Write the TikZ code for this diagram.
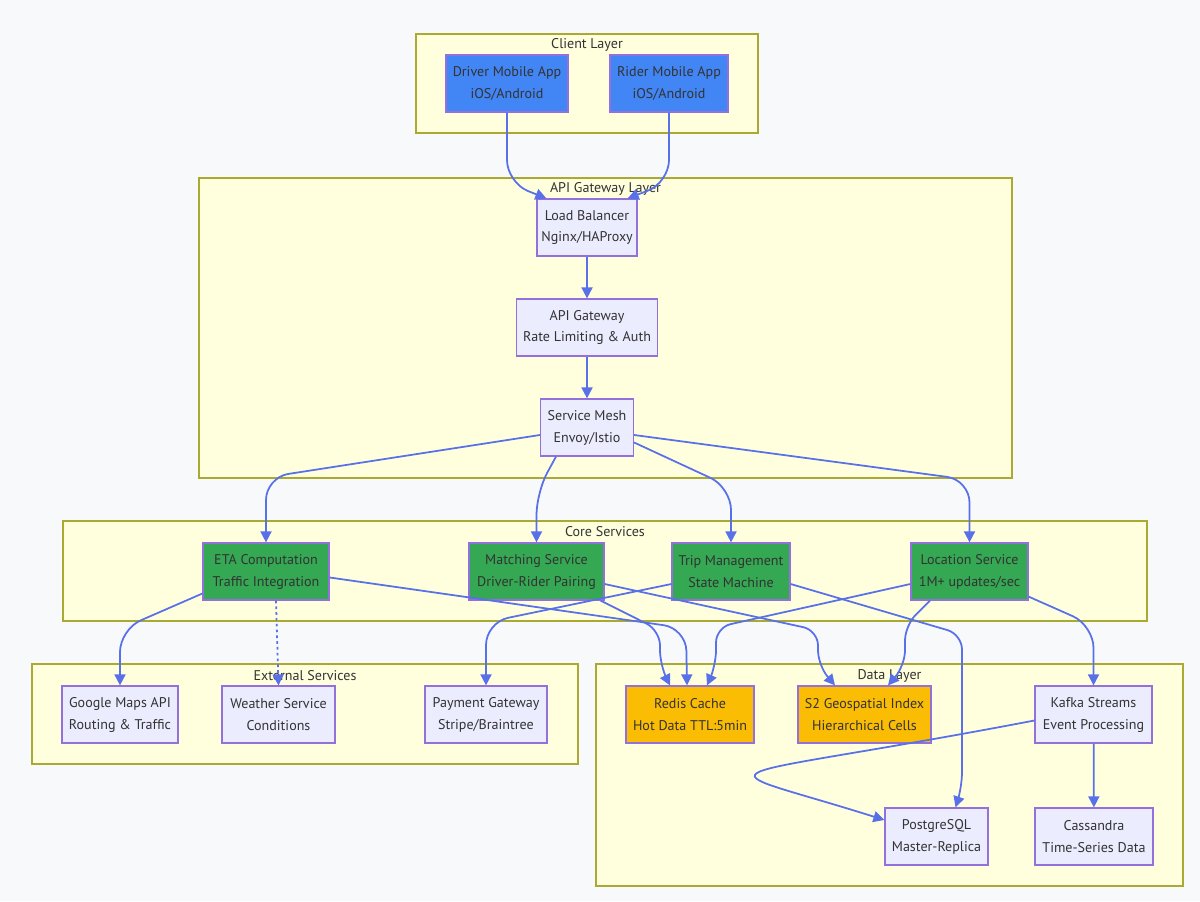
\documentclass[tikz,border=0pt]{standalone}
\usepackage{fontspec}
\setmainfont{PT Sans}
\usepackage{xcolor}
\usetikzlibrary{arrows.meta}
\usetikzlibrary{positioning,calc}
\definecolor{bgcol}{RGB}{248,249,251}
\definecolor{layerfill}{HTML}{FFFFDE}
\definecolor{layerline}{HTML}{AAAA33}
\definecolor{boxfill}{HTML}{ECECFF}
\definecolor{boxline}{HTML}{9370DB}
\definecolor{appblue}{HTML}{4285F4}
\definecolor{svcgreen}{HTML}{34A853}
\definecolor{dataorange}{HTML}{FBBC04}
\definecolor{linkblue}{RGB}{88,112,232}
\definecolor{txt}{HTML}{333333}
\tikzset{
    layer/.style={
        draw=layerline,
        fill=layerfill,
        line width=0.7pt
    },
    layertitle/.style={
        text=txt,
        inner sep=0pt,
        font=\fontsize{8}{10}\selectfont
    },
    box/.style={
        draw=boxline,
        fill=boxfill,
        line width=0.7pt,
        minimum height=1.14cm,
        inner sep=0pt,
        align=center,
        text=txt,
        font=\fontsize{8}{12.5}\selectfont
    },
    appbox/.style={box, fill=appblue},
    svcbox/.style={box, fill=svcgreen},
    databox/.style={box, fill=dataorange},
    flow/.style={
        draw=linkblue,
        line width=1pt,
        -{Triangle[length=2.2mm, width=2.2mm]},
        rounded corners=0.45cm
    },
    bentflow/.style={flow, rounded corners=0.3cm},
    weakflow/.style={flow, dash pattern=on 1.5pt off 1.8pt}
}

\begin{document}
\begin{tikzpicture}
    \fill[bgcol] (0,0) rectangle (24,-18.02);
    \useasboundingbox (0,0) rectangle (24,-18.02);

    \draw[layer] (8.32,-0.68) rectangle (15.16,-2.66);
    \node[layertitle] (clientT) at (11.74,-0.9) {Client Layer};
    \draw[layer] (3.98,-3.56) rectangle (20.24,-9.56);
    \node[layertitle] (gatewayT) at (12.11,-3.78) {API Gateway Layer};
    \draw[layer] (1.26,-10.42) rectangle (22.94,-12.42);
    \node[layertitle] (coreT) at (12.1,-10.64) {Core Services};
    \draw[layer] (0.64,-13.28) rectangle (11.56,-15.28);
    \node[layertitle] (extT) at (6.1,-13.52) {External Services};
    \draw[layer] (11.92,-13.28) rectangle (23.66,-17.72);
    \node[layertitle] (dataT) at (17.79,-13.52) {Data Layer};

    \node[appbox, minimum width=2.44cm] (driver) at (10.14,-1.67) {Driver Mobile App\\iOS/Android};
    \node[appbox, minimum width=2.36cm] (rider) at (13.38,-1.67) {Rider Mobile App\\iOS/Android};

    \node[box, minimum width=2.0cm] (lb) at (11.74,-4.55) {Load Balancer\\Nginx/HAProxy};
    \node[box, minimum width=2.82cm] (apigw) at (11.74,-6.55) {API Gateway\\Rate Limiting \& Auth};
    \node[box, minimum width=1.86cm] (mesh) at (11.74,-8.55) {Service Mesh\\Envoy/Istio};

    \node[svcbox, minimum width=2.52cm] (eta) at (5.32,-11.43) {ETA Computation\\Traffic Integration};
    \node[svcbox, minimum width=2.7cm] (match) at (10.73,-11.43) {Matching Service\\Driver-Rider Pairing};
    \node[svcbox, minimum width=2.36cm] (trip) at (14.62,-11.43) {Trip Management\\State Machine};
    \node[svcbox, minimum width=2.34cm] (loc) at (19.39,-11.43) {Location Service\\1M+ updates/sec};

    \node[box, minimum width=2.32cm] (gmaps) at (2.4,-14.29) {Google Maps API\\Routing \& Traffic};
    \node[box, minimum width=2.26cm] (weather) at (5.57,-14.29) {Weather Service\\Conditions};
    \node[box, minimum width=2.44cm] (pay) at (9.72,-14.29) {Payment Gateway\\Stripe/Braintree};

    \node[databox, minimum width=2.56cm] (redis) at (13.8,-14.29) {Redis Cache\\Hot Data TTL:5min};
    \node[databox, minimum width=2.66cm] (geo) at (17.29,-14.29) {S2 Geospatial Index\\Hierarchical Cells};
    \node[box, minimum width=2.34cm] (kafka) at (21.87,-14.29) {Kafka Streams\\Event Processing};
    \node[box, minimum width=2.06cm] (pg) at (18.73,-16.73) {PostgreSQL\\Master-Replica};
    \node[box, minimum width=2.36cm] (cass) at (21.88,-16.73) {Cassandra\\Time-Series Data};

    \draw[flow] (driver.south) -- ($(driver.south)+(0,-1.4)$) -- ([xshift=0.2cm]lb.north west);
    \draw[flow] (rider.south) -- ($(rider.south)+(0,-1.4)$) -- ([xshift=-0.2cm]lb.north east);
    \draw[flow] (lb) -- (apigw);
    \draw[flow] (apigw) -- (mesh);

    \draw[flow] ([yshift=-0.15cm]mesh.west) -- ($(eta.north)+(0,1.3)$) -- (eta.north);
    \draw[flow] ([xshift=-0.62cm]mesh.south) -- ($(match.north)+(0,1.0)$) -- (match.north);
    \draw[flow] ([yshift=-0.3cm]mesh.east) -- ($(trip.north)+(0,1.1)$) -- (trip.north);
    \draw[flow] ([yshift=-0.15cm]mesh.east) -- ($(loc.north)+(0,1.25)$) -- (loc.north);

    \draw[flow] ([yshift=-0.44cm]eta.west) -- ($(gmaps.north)+(0,1.12)$) -- (gmaps.north);
    \draw[weakflow] ([xshift=0.2cm]eta.south) -- (weather.north);
    \draw[flow] ([yshift=-0.12cm]eta.east) -- ($(redis.north)+(-0.08,1.14)$) -- ([xshift=-0.06cm]redis.north);

    \draw[bentflow] ([xshift=-0.08cm]match.south east) -- ($(redis.north)+(-0.6,1.1)$) -- ($(redis.north)+(-0.6,0.4)$) -- ([xshift=-0.4cm]redis.north);
    \draw[bentflow] ([yshift=-0.25cm]match.east) -- ($(geo.north)+(-0.93,1.1)$) -- ($(geo.north)+(-0.93,0.4)$) -- ([xshift=-0.59cm]geo.north);

    \draw[flow] ([yshift=-0.25cm]trip.west) -- ($(pay.north)+(0,1.26)$) -- (pay.north);
    \draw[bentflow] ([yshift=-0.25cm]trip.east) -- ($(pg.north)+(0.51,3.46)$) -- ($(pg.north)+(0.51,0.4)$) -- ([xshift=0.38cm]pg.north);

    \draw[bentflow] ([yshift=-0.25cm]loc.west) -- ($(redis.north)+(0.52,1.16)$) -- ($(redis.north)+(0.52,0.4)$) -- ([xshift=0.34cm]redis.north);
    \draw[bentflow] ([xshift=-0.79cm]loc.south) -- ($(geo.north)+(0.81,1.2)$) -- ($(geo.north)+(0.81,0.4)$) -- ([xshift=0.47cm]geo.north);
    \draw[flow] ([yshift=0.08cm]loc.south east) -- ($(kafka.north)+(0,1.2)$) -- (kafka.north);

    \draw[flow] ([yshift=-0.12cm]kafka.west) .. controls +(-6.8,-1.3) and +(-3.8,1.2) .. ([yshift=0.33cm]pg.west);
    \draw[flow] (kafka) -- (cass);
\end{tikzpicture}
\end{document}
